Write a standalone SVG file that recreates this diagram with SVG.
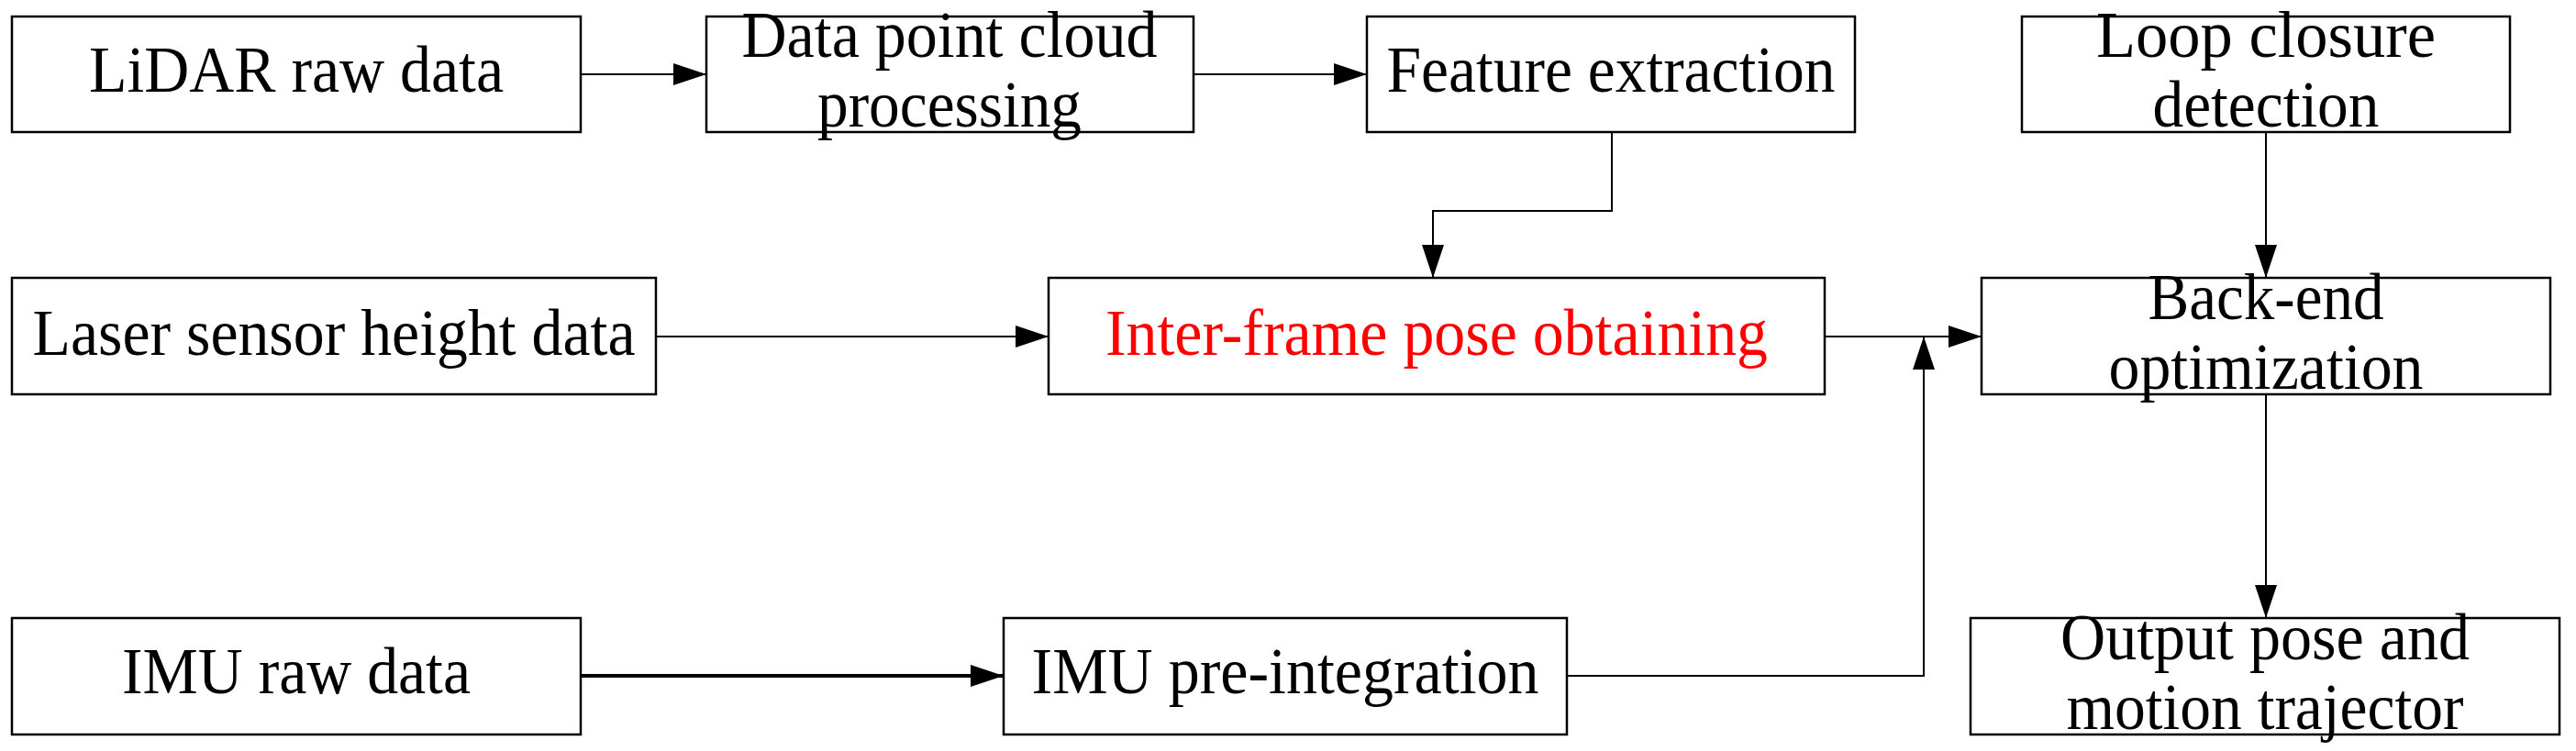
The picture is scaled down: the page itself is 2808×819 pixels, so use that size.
<svg xmlns="http://www.w3.org/2000/svg" width="2808" height="819" viewBox="0 0 2808 819">
<style>
rect{fill:#fff;stroke:#000;stroke-width:2.5}
text{font-family:"Liberation Serif","Times New Roman",serif;font-size:72px;text-anchor:middle;fill:#000}
.c path{fill:none;stroke:#000;stroke-width:2}
</style>
<defs><marker id="a" markerUnits="userSpaceOnUse" markerWidth="36" markerHeight="24" refX="36" refY="12" orient="auto"><path d="M0,0L36,12L0,24Z" fill="#000"/></marker></defs>
<rect width="2808" height="819" style="stroke:none"/>
<g id="lidar"><rect x="13" y="18" width="620" height="126"/><text x="323" y="100" textLength="452" lengthAdjust="spacingAndGlyphs">LiDAR raw data</text></g>
<g id="dpc"><rect x="770" y="18" width="531" height="126"/><text x="1035" y="62" textLength="453" lengthAdjust="spacingAndGlyphs">Data point cloud</text><text x="1035" y="138" textLength="288" lengthAdjust="spacingAndGlyphs">processing</text></g>
<g id="feat"><rect x="1490" y="18" width="532" height="126"/><text x="1756" y="100" textLength="489" lengthAdjust="spacingAndGlyphs">Feature extraction</text></g>
<g id="loop"><rect x="2204" y="18" width="532" height="126"/><text x="2470" y="62" textLength="370" lengthAdjust="spacingAndGlyphs">Loop  closure</text><text x="2470" y="138" textLength="247" lengthAdjust="spacingAndGlyphs">detection</text></g>
<g id="laser"><rect x="13" y="303" width="702" height="127"/><text x="364" y="387" textLength="657" lengthAdjust="spacingAndGlyphs">Laser sensor height data</text></g>
<g id="inter"><rect x="1143" y="303" width="846" height="127"/><text x="1566" y="387" textLength="722" lengthAdjust="spacingAndGlyphs" fill="#f00" style="fill:#f00">Inter-frame pose obtaining</text></g>
<g id="back"><rect x="2160" y="303" width="620" height="127"/><text x="2470" y="348" textLength="257" lengthAdjust="spacingAndGlyphs">Back-end</text><text x="2470" y="424" textLength="343" lengthAdjust="spacingAndGlyphs">optimization</text></g>
<g id="imu"><rect x="13" y="674" width="620" height="127"/><text x="323" y="756" textLength="380" lengthAdjust="spacingAndGlyphs">IMU raw data</text></g>
<g id="pre"><rect x="1094" y="674" width="614" height="127"/><text x="1401" y="756" textLength="553" lengthAdjust="spacingAndGlyphs">IMU pre-integration</text></g>
<g id="out"><rect x="2148" y="674" width="642" height="127"/><text x="2469" y="719" textLength="446" lengthAdjust="spacingAndGlyphs">Output pose and</text><text x="2469" y="795" textLength="433" lengthAdjust="spacingAndGlyphs">motion trajector</text></g>
<g class="c">
<path d="M633,81H770" marker-end="url(#a)"/>
<path d="M1301,81H1490" marker-end="url(#a)"/>
<path d="M1757,144V230H1562V303" marker-end="url(#a)"/>
<path d="M715,367H1143" marker-end="url(#a)"/>
<path d="M1989,367H2160" marker-end="url(#a)"/>
<path d="M1708,737H2097V367" marker-end="url(#a)"/>
<path d="M633,737H1094" style="stroke-width:4" marker-end="url(#a)"/>
<path d="M2470,144V303" marker-end="url(#a)"/>
<path d="M2470,430V674" marker-end="url(#a)"/>
</g>
</svg>
